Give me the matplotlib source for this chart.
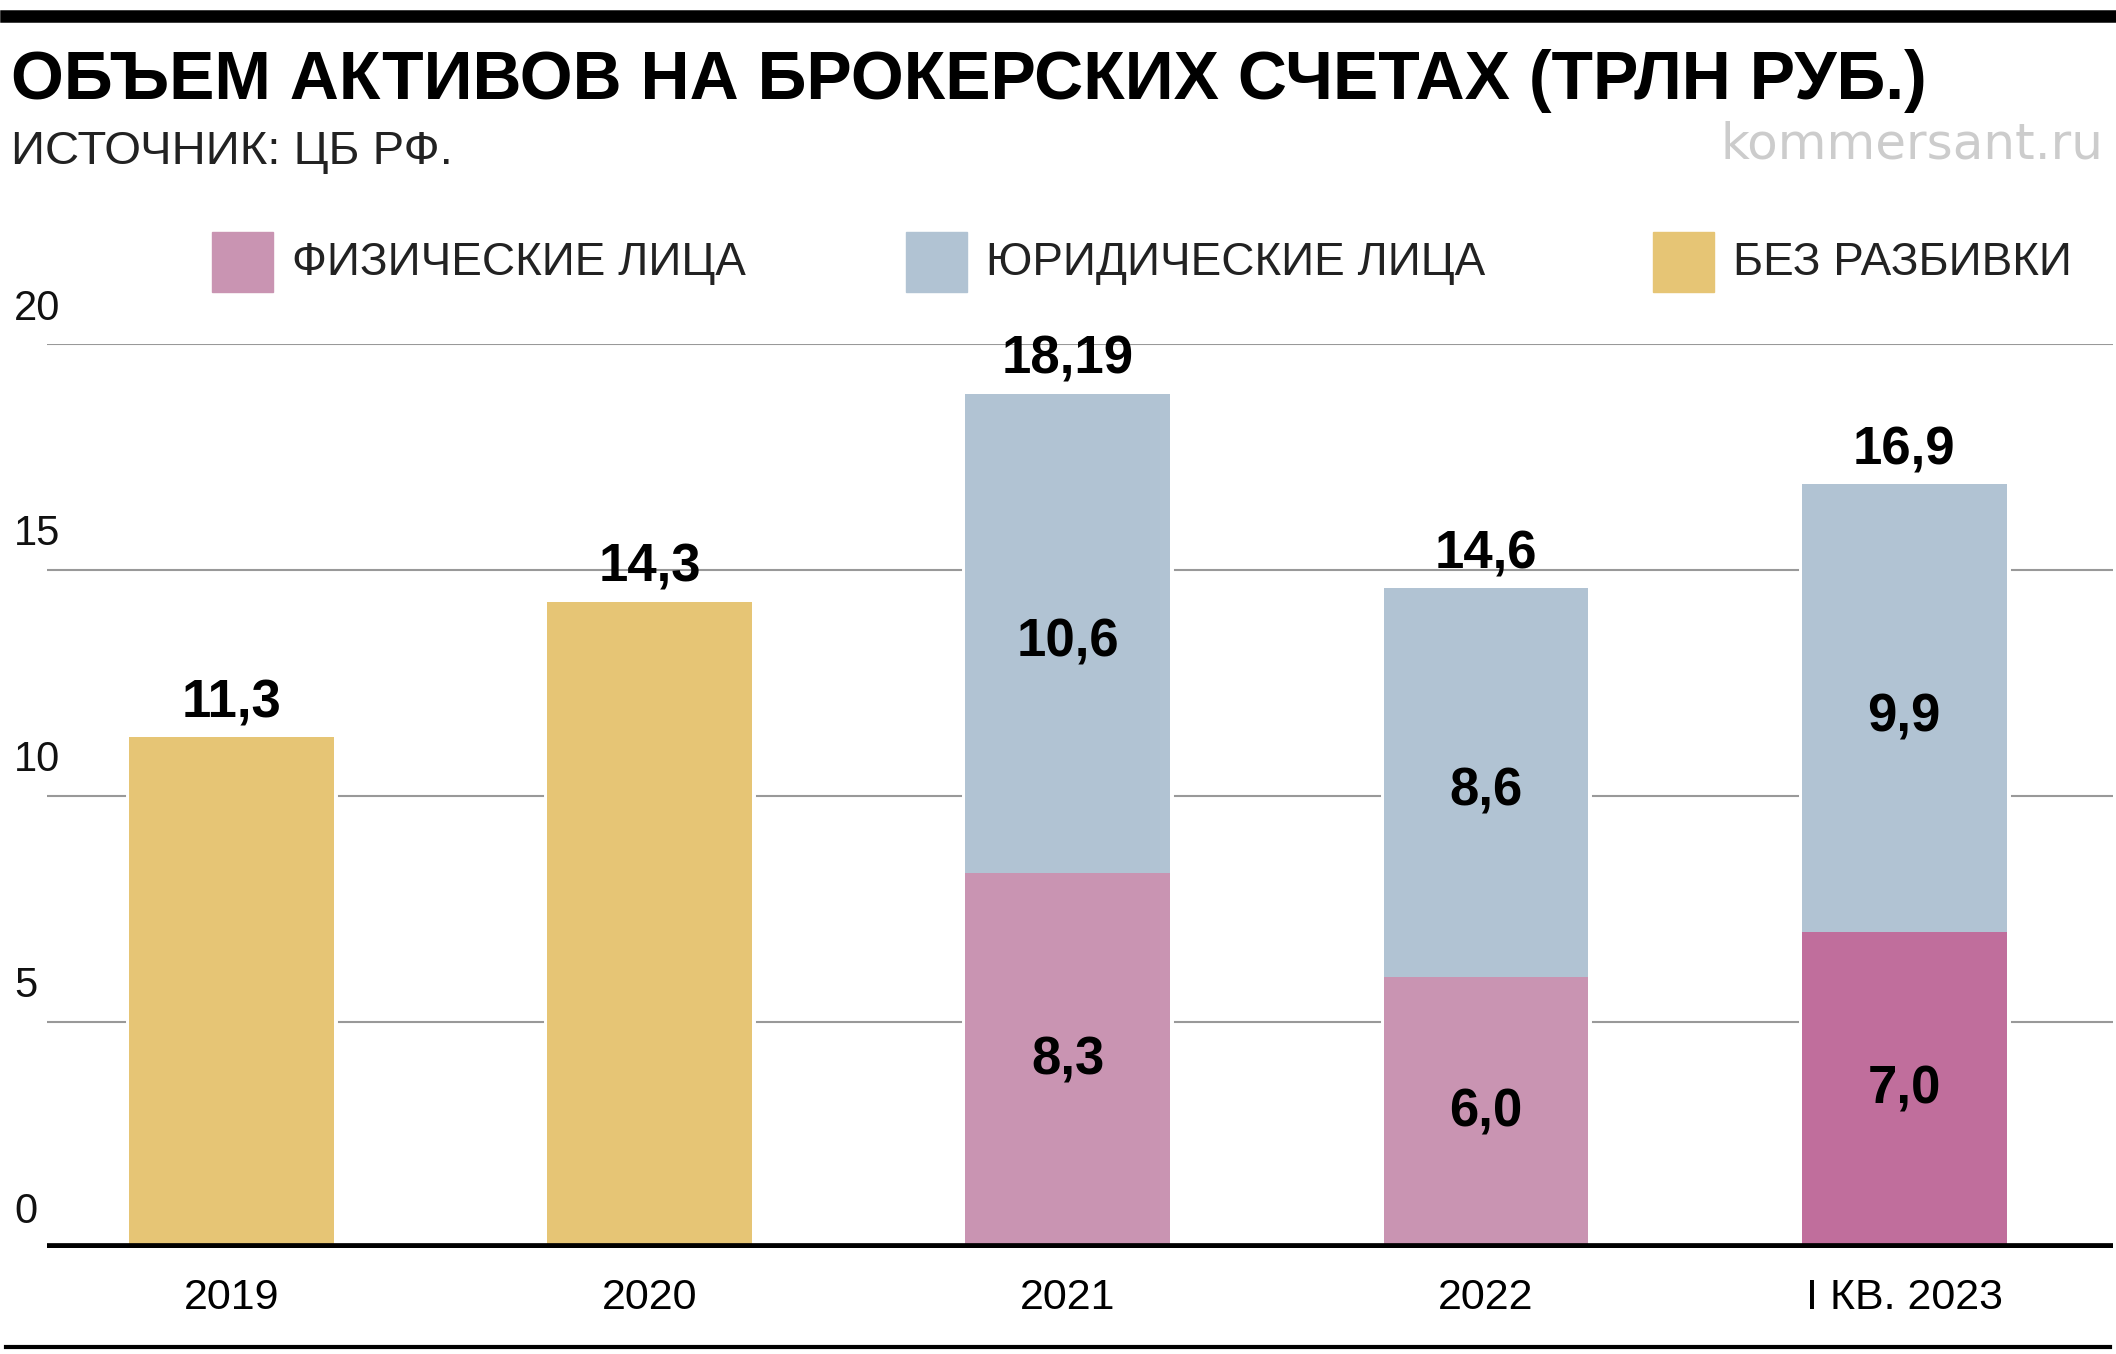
import matplotlib
matplotlib.use("Agg")
import matplotlib.pyplot as plt
import numpy as np

categories = ["2019", "2020", "2021", "2022", "I КВ. 2023"]
fiz = [0, 0, 8.3, 6.0, 7.0]
yur = [0, 0, 10.6, 8.6, 9.9]
bez = [11.3, 14.3, 0, 0, 0]
totals = ["11,3", "14,3", "18,19", "14,6", "16,9"]
fiz_lbl = [None, None, "8,3", "6,0", "7,0"]
yur_lbl = [None, None, "10,6", "8,6", "9,9"]

YEL, PINK, BLUE, DPINK = "#E6C575", "#C994B2", "#B1C3D3", "#C06E9C"
FONT = "Liberation Sans"
plt.rcParams["font.family"] = FONT

fig = plt.figure(figsize=(21.16, 13.54), dpi=100)
ax = fig.add_axes([0.0224, 0.0784, 0.9763, 0.6673])
x = np.arange(len(categories))
w = 0.49
ax.set_ylim(0, 20)
ax.set_xlim(-0.44, 4.50)
for v in [5, 10, 15, 20]:
    ax.axhline(v, color="#999999", lw=1.5, zorder=1)
for v in [0, 5, 10, 15, 20]:
    ax.text(-0.52, v + 0.35, str(v), fontsize=30, ha="left", va="bottom", color="#111111", clip_on=False)
fcols = [PINK, PINK, PINK, PINK, DPINK]
ax.bar(x, bez, w, color=YEL, edgecolor="white", lw=5, zorder=2)
ax.bar(x, fiz, w, color=fcols, edgecolor="white", lw=5, zorder=2)
ax.bar(x, fiz, w, color=fcols, zorder=3)
ax.bar(x, yur, w, bottom=fiz, color=BLUE, edgecolor="white", lw=5, zorder=2)
ax.bar(x, yur, w, bottom=fiz, color=BLUE, zorder=3)
ax.bar(x, bez, w, color=YEL, zorder=3)
for i in range(len(x)):
    tot = fiz[i] + yur[i] + bez[i]
    ax.text(x[i], tot + 0.2, totals[i], ha="center", va="bottom", fontsize=38, fontweight="bold", zorder=5, clip_on=False)
    if fiz_lbl[i]:
        ax.text(x[i], fiz[i] / 2, fiz_lbl[i], ha="center", va="center", fontsize=38, fontweight="bold", zorder=5)
        ax.text(x[i], fiz[i] + yur[i] / 2 - 0.2, yur_lbl[i], ha="center", va="center", fontsize=38, fontweight="bold", zorder=5)
ax.axhline(0, color="black", lw=7, zorder=6)
for s in ax.spines.values():
    s.set_visible(False)
ax.set_yticks([])
ax.set_xticks(x)
ax.set_xticklabels(categories, fontsize=31)
ax.tick_params(axis="x", length=0, pad=22)

# header
fig.add_artist(plt.Line2D([0.003, 0.997], [0.988, 0.988], color="black", lw=9))
fig.add_artist(plt.Line2D([0.003, 0.997], [0.005, 0.005], color="black", lw=3))
fig.text(0.005, 0.94, "ОБЪЕМ АКТИВОВ НА БРОКЕРСКИХ СЧЕТАХ (ТРЛН РУБ.)", fontsize=49, fontweight="bold", va="center", ha="left")
fig.text(0.005, 0.888, "ИСТОЧНИК: ЦБ РФ.", fontsize=34, va="center", ha="left", color="#222222")
fig.text(0.994, 0.893, "kommersant.ru", fontsize=36, va="center", ha="right", color="#CCCCCC", fontfamily="DejaVu Sans")
leg = [(0.100, PINK, "ФИЗИЧЕСКИЕ ЛИЦА"), (0.428, BLUE, "ЮРИДИЧЕСКИЕ ЛИЦА"), (0.781, YEL, "БЕЗ РАЗБИВКИ")]
for lx, c, t in leg:
    fig.patches.append(plt.Rectangle((lx, 0.784), 0.029, 0.045, color=c, transform=fig.transFigure))
    fig.text(lx + 0.038, 0.806, t, fontsize=33, va="center", ha="left", color="#222222")
fig.savefig("out.png", dpi=100)
